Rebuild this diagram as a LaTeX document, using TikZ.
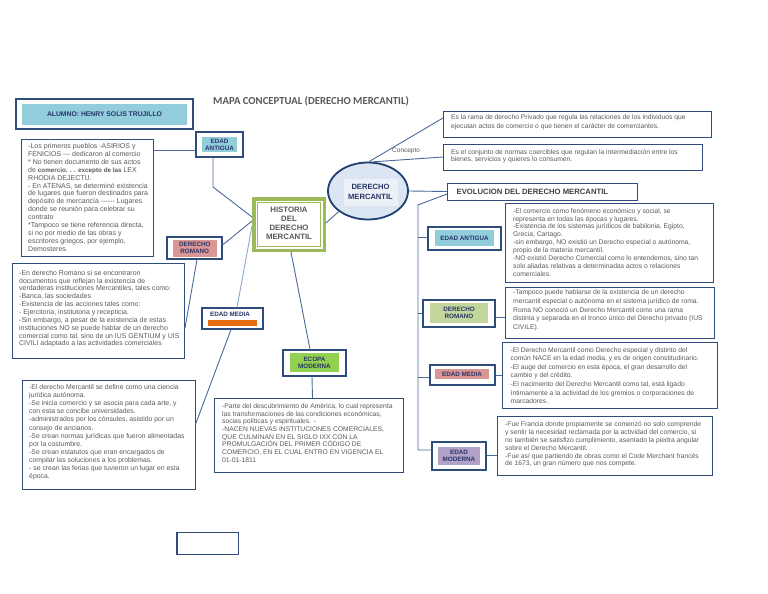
\documentclass[tikz,border=0pt]{standalone}
\usepackage{fontspec}
\setmainfont{Liberation Sans}
\newfontfamily\titlefont{Carlito}
\usetikzlibrary{calc,shapes.geometric}
\definecolor{bordc}{HTML}{2E4D7B}
\definecolor{connc}{HTML}{4A6A9A}
\definecolor{connl}{HTML}{8FA8CC}
\definecolor{txtc}{HTML}{5A5A5A}
\definecolor{titc}{HTML}{595959}
\definecolor{navyc}{HTML}{283569}
\definecolor{lblue}{HTML}{92CDDC}
\definecolor{pinkc}{HTML}{D99694}
\definecolor{lgreen}{HTML}{C3D69B}
\definecolor{bgreen}{HTML}{92D050}
\definecolor{purpc}{HTML}{B3A2C7}
\definecolor{orangec}{HTML}{E46C0A}
\definecolor{ellfill}{HTML}{DCE6F2}
\definecolor{ellbord}{HTML}{1F3F6F}
\definecolor{hgreen}{HTML}{9BBB59}
\begin{document}
\begin{tikzpicture}[x=1pt,y=-1pt,
  tbox/.style={draw=bordc, line width=1pt, fill=white, anchor=north west, inner sep=0pt},
  btxt/.style={anchor=north west, inner sep=0pt, align=left, text=txtc, font=\fontsize{6.75}{#1}\selectfont},
  btxt/.default={7.9},
  lout/.style={draw=bordc, line width=1.1pt, fill=white, inner sep=0pt},
  lin/.style={inner sep=0pt, align=center, text=navyc, font=\fontsize{6.3}{7.2}\selectfont\bfseries},
  conn/.style={draw=connc, line width=0.9pt},
  connlight/.style={draw=connl, line width=0.9pt},
]
\useasboundingbox[fill=white] (0,0) rectangle (768,594);

% title
\node[anchor=west, inner sep=0pt, text=titc, font=\titlefont\bfseries\fontsize{10.7}{12}\selectfont] (title) at (213,101) {MAPA CONCEPTUAL (DERECHO MERCANTIL)};

% alumno
\node[lout, minimum width=177pt, minimum height=30pt] (alumno) at (104.5,114) {};
\node[lin, fill=lblue, minimum width=165pt, minimum height=21pt, font=\fontsize{6.8}{7.5}\selectfont\bfseries] (alumnot) at (104.5,114.5) {ALUMNO: HENRY SOLIS TRUJILLO};

% left labels
\node[lout, minimum width=47pt, minimum height=25pt] (edadAL) at (219.5,144.5) {};
\node[lin, fill=lblue, minimum width=35pt, minimum height=15pt] (edadALt) at (219.5,144.5) {EDAD\\ANTIGUA};

\node[lout, minimum width=55pt, minimum height=22pt] (derRL) at (194.5,248) {};
\node[lin, fill=pinkc, minimum width=43.5pt, minimum height=17pt] (derRLt) at (194.75,248) {DERECHO\\ROMANO};

\node[lout, minimum width=61pt, minimum height=21pt] (edadML) at (232.5,318.5) {};
\node[lin] (edadMLt) at (230,314.5) {EDAD MEDIA};
\node[fill=orangec, inner sep=0pt, minimum width=49pt, minimum height=6pt] (edadMLbar) at (232.5,323) {};

\node[lout, minimum width=63pt, minimum height=26pt] (ecopa) at (314.5,363) {};
\node[lin, fill=bgreen, minimum width=49pt, minimum height=19pt] (ecopat) at (314.5,362.5) {ECOPA\\MODERNA};

% historia
\node[draw=hgreen, line width=3.5pt, fill=white, minimum width=70.5pt, minimum height=51.5pt, inner sep=0pt] (hist) at (289,224.5) {};
\node[draw=hgreen, line width=0.8pt, minimum width=63pt, minimum height=44pt, inner sep=0pt] (histin) at (289,224.5) {};
\node[inner sep=0pt, align=center, text=titc, font=\fontsize{7.8}{9}\selectfont\bfseries] (histt) at (289,223.5) {HISTORIA\\DEL\\DERECHO\\MERCANTIL};

% ellipse
\node[ellipse, draw=ellbord, line width=1.8pt, fill=ellfill, minimum width=80pt, minimum height=57pt, inner sep=0pt] (ell) at (368,191) {};
\node[fill=ellfill!55!white, minimum width=54pt, minimum height=27pt, inner sep=0pt, align=center, text=navyc, font=\fontsize{7.6}{10}\selectfont\bfseries] (ellt) at (370.5,192) {DERECHO\\MERCANTIL};

% left text boxes
\node[tbox, minimum width=132pt, minimum height=117pt] (b1) at (21,139) {};
\node[btxt=7.95, font=\fontsize{7}{7.95}\selectfont] (b1t) at (28,143) {-Los primeros pueblos -ASIRIOS y\\
FENICIOS {-}{-}{-} dedicaron al comercio\\
* No tienen documento de sus actos\\
de {\fontsize{6.3}{7.95}\selectfont\bfseries comercio. . . excepto de las} LEX\\
RHODIA DEJECTU.\\
- En ATENAS, se determinó existencia\\
de lugares que fueron destinados para\\
depósito de mercancía {-}{-}{-}{-}{-}{-} Lugares\\
donde se reunión para celebrar su\\
contrato\\
*Tampoco se tiene referencia directa,\\
si no por medio de las obras y\\
escritores griegos, por ejemplo,\\
Demosteres.};

\node[tbox, minimum width=172pt, minimum height=95pt] (b2) at (12,263) {};
\node[btxt=7.85, font=\fontsize{6.95}{7.85}\selectfont] (b2t) at (19,270) {-En derecho Romano si se encontraron\\
documentos que reflejan la existencia de\\
verdaderas instituciones Mercantiles, tales como:\\
-Banca, las sociedades\\
-Existencia de las acciones tales como:\\
- Ejercitoria, institutoria y recepticia.\\
-Sin embargo, a pesar de la existencia de estas\\
instituciones NO se puede hablar de un derecho\\
comercial como tal, sino de un IUS GENTIUM y UIS\\
CIVILI adaptado a las actividades comerciales};

\node[tbox, minimum width=173pt, minimum height=109pt] (b3) at (22,380) {};
\node[btxt=8.05, font=\fontsize{6.85}{8.05}\selectfont] (b3t) at (29,384.6) {-El derecho Mercantil se define como una ciencia\\
jurídica autónoma.\\
-Se inicia comercio y se asocia para cada arte, y\\
con esta se concibe universidades.\\
-administrados por los cónsules, asistido por un\\
consejo de ancianos.\\
-Se crean normas jurídicas que fueron alimentadas\\
por la costumbre.\\
-Se crean estatutos que eran encargados de\\
compilar las soluciones a los problemas.\\
- se crean las ferias que tuvieron un lugar en esta\\
época.};

\node[tbox, minimum width=189pt, minimum height=74pt] (b4) at (214,398) {};
\node[btxt=7.7] (b4t) at (222,403.3) {-Parte del descubrimiento de América, lo cual representa\\
las transformaciones de las condiciones económicas,\\
socias políticas y espirituales. -\\
-NACEN NUEVAS INSTITUCIONES COMERCIALES,\\
QUE CULMINAN EN EL SIGLO IXX CON LA\\
PROMULGACIÓN DEL PRIMER CÓDIGO DE\\
COMERCIO, EN EL CUAL ENTRO EN VIGENCIA EL\\
01-01-1811};

\node[tbox, minimum width=61pt, minimum height=22pt] (empty) at (177,532) {};
\draw[bordc, line width=2pt] (empty.north west) -- (empty.south west);

% definitions
\node[tbox, minimum width=268pt, minimum height=26pt] (def1) at (443,111) {};
\node[btxt=8.5] (def1t) at (451,114.8) {Es la rama de derecho Privado que regula las relaciones de los individuos que\\
ejecutan actos de comercio o que tienen el carácter de comerciantes.};
\node[tbox, minimum width=259pt, minimum height=26pt] (def2) at (443,144) {};
\node[btxt=7.6] (def2t) at (451,149) {Es el conjunto de normas coercibles que regulan la intermediación entre los\\
bienes, servicios y quieres lo consumen.};
\node[anchor=west, inner sep=0pt, text=txtc, font=\fontsize{6.5}{7.5}\selectfont] (concepto) at (392,150.7) {Concepto};

% evolucion
\node[tbox, minimum width=190pt, minimum height=17pt] (evol) at (447,183) {};
\node[anchor=west, inner sep=0pt, text=black!75, font=\fontsize{7.7}{9}\selectfont\bfseries] (evolt) at (456.5,191.5) {EVOLUCION DEL DERECHO MERCANTIL};

% right labels
\node[lout, minimum width=73pt, minimum height=23pt] (edadAR) at (464.5,238.5) {};
\node[lin, fill=lblue, minimum width=59pt, minimum height=16pt] (edadARt) at (464.5,238) {EDAD ANTIGUA};
\node[lout, minimum width=72pt, minimum height=27pt] (derRR) at (459,313.5) {};
\node[lin, fill=lgreen, minimum width=58pt, minimum height=20pt] (derRRt) at (459,313) {DERECHO\\ROMANO};
\node[lout, minimum width=65pt, minimum height=20pt] (edadMR) at (462.5,375) {};
\node[lin, fill=pinkc, minimum width=54pt, minimum height=10pt] (edadMRt) at (462,374) {EDAD MEDIA};
\node[lout, minimum width=54pt, minimum height=28pt] (edadMoR) at (459,456) {};
\node[lin, fill=purpc, minimum width=42pt, minimum height=18pt] (edadMoRt) at (459,456) {EDAD\\MODERNA};

% right text boxes
\node[tbox, minimum width=208pt, minimum height=79pt] (bA) at (505,203) {};
\node[btxt=7.9] (bAt) at (513,208) {-El comercio como fenómeno económico y social, se\\
representa en todas las épocas y lugares.\\
-Existencia de los sistemas jurídicos de babilonia, Egipto,\\
Grecia, Cartago.\\
-sin embargo, NO existió un Derecho especial o autónoma,\\
propio de la materia mercantil.\\
-NO existió Derecho Comercial como lo entendemos, sino tan\\
solo aliadas relativas a determinadas actos o relaciones\\
comerciales.};
\node[tbox, minimum width=209pt, minimum height=51pt] (bB) at (505,287) {};
\node[btxt=8.7] (bBt) at (513,289.6) {-Tampoco puede hablarse de la existencia de un derecho\\
mercantil especial o autónoma en el sistema jurídico de roma.\\
Roma NO conoció un Derecho Mercantil como una rama\\
distinta y separada en el tronco único del Derecho privado (IUS\\
CIVILE).};
\node[tbox, minimum width=215pt, minimum height=66pt] (bC) at (502,342) {};
\node[btxt=8.6] (bCt) at (510.5,347) {-El Derecho Mercantil como Derecho especial y distinto del\\
común NACE en la edad media, y es de origen constitudinario.\\
-El auge del comercio en esta época, el gran desarrollo del\\
cambio y del crédito.\\
-El nacimiento del Derecho Mercantil como tal, está ligado\\
íntimamente a la actividad de los gremios o corporaciones de\\
marcadores.};
\node[tbox, minimum width=215pt, minimum height=59pt] (bD) at (497,416) {};
\node[btxt=7.9] (bDt) at (505,421.3) {-Fue Francia donde propiamente se comenzó no solo comprende\\
y sentir la necesidad reclamada por la actividad del comercio, si\\
no también se satisfizo cumplimiento, asentado la piedra angular\\
sobre el Derecho Mercantil.\\
-Fue así que partiendo de obras como el Code Merchant francés\\
de 1673, un gran número que nos compete.};

% connectors left
\draw[conn] (b1.east |- 0,150) -- (edadAL.west |- 0,150);
\draw[conn] (213,0 |- edadAL.south) -- (213,187) -- (hist.west |- 0,217);
\draw[conn] (derRL.east |- 0,245) -- (hist.west |- 0,221);
\draw[connlight] (hist.west |- 0,226) -- (edadML.north -| 237,0);
\draw[conn] (derRL.south -| 197,0) -- (b2.east |- 0,328);
\draw[conn] (edadML.south -| 231,0) -- (b3.east |- 0,423);
\draw[conn] (hist.south -| 291,0) -- (ecopa.north -| 310,0);
\draw[conn] (ecopa.south -| 312,0) -- (b4.north -| 312.5,0);
\draw[conn] (hist.east |- 0,223) -- (ell.215);
% connectors right
\draw[conn] (ell.88) -- (def1.west |- 0,118);
\draw[conn] (ell.80) -- (def2.west |- 0,157);
\draw[conn] (ell.east) -- (evol.west |- 0,191.5);
\coordinate (sp0) at (418,205);
\coordinate (sp1) at (418,237);
\coordinate (sp2) at (418,313);
\coordinate (sp3) at (418,377);
\coordinate (sp4) at (418,450);
\draw[conn] (evol.west |- 0,194) -- (sp0) -- (sp4) -- (edadMoR.west |- sp4);
\draw[conn] (sp1) -- (edadAR.west |- sp1);
\draw[conn] (sp2) -- (derRR.west |- sp2);
\draw[conn] (sp3) -- (edadMR.west |- sp3);
\draw[conn] (derRR.east |- 0,317) -- (bB.west |- 0,317);
\draw[conn] (edadMR.east |- 0,375) -- (bC.west |- 0,375);
\draw[conn] (edadMoR.east |- 0,455) -- (bD.west |- 0,455);
\end{tikzpicture}
\end{document}
